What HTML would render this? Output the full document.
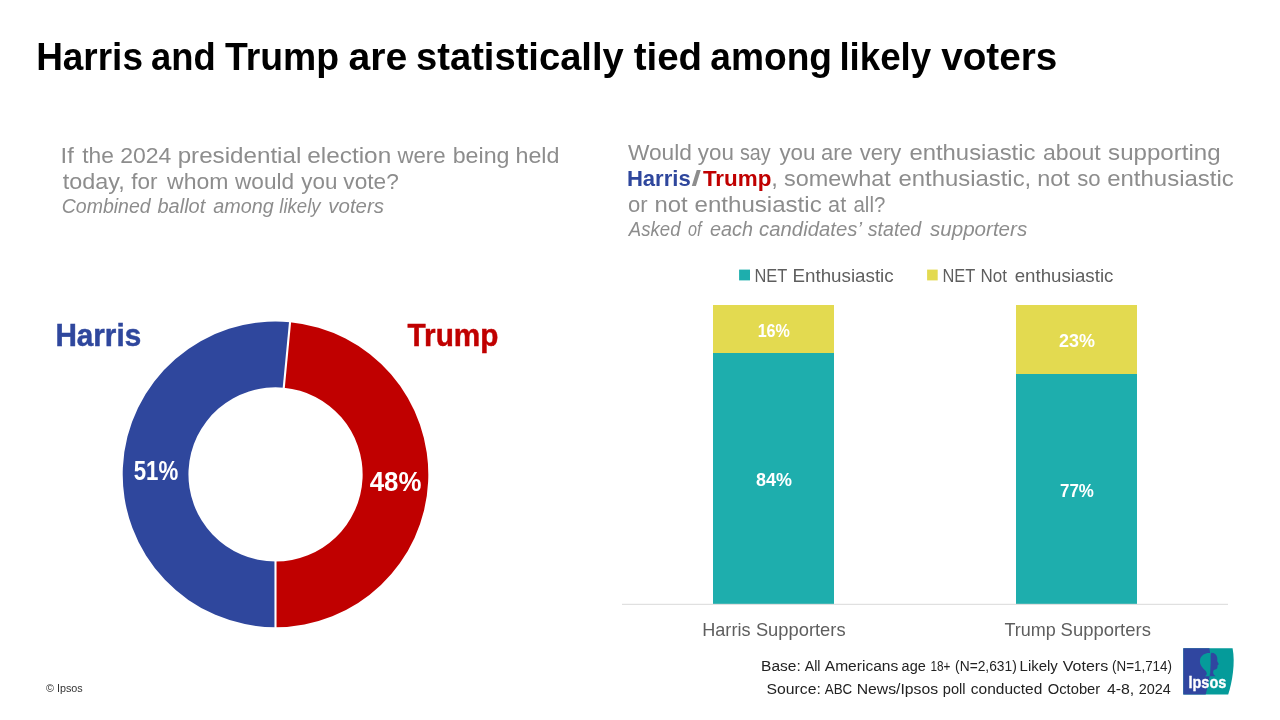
<!DOCTYPE html>
<html lang="en">
<head>
<meta charset="utf-8">
<title>Harris and Trump are statistically tied among likely voters</title>
<style>
  html, body { margin: 0; padding: 0; background: #ffffff; }
  body { width: 1280px; height: 720px; overflow: hidden; position: relative; font-family: "Liberation Sans", sans-serif; }
  svg { position: absolute; left: 0; top: 0; display: block; }
  text { font-family: "Liberation Sans", sans-serif; }
  .t { font-weight: bold; font-style: normal; font-size: 39.6px; word-spacing: 0px; }
  .q { font-weight: normal; font-style: normal; font-size: 22.2px; word-spacing: -1.3px; }
  .qb { font-weight: bold; font-style: normal; font-size: 22.2px; word-spacing: 0px; }
  .qi { font-weight: normal; font-style: italic; font-size: 19.4px; word-spacing: -1.0px; }
  .lg { font-weight: normal; font-style: normal; font-size: 18.6px; word-spacing: -0.8px; }
  .dl { font-weight: bold; font-style: normal; font-size: 19.0px; word-spacing: 0px; }
  .pl { font-weight: bold; font-style: normal; font-size: 27.2px; word-spacing: 0px; }
  .nm { font-weight: bold; font-style: normal; font-size: 32.0px; word-spacing: 0px; }
  .ft { font-weight: normal; font-style: normal; font-size: 14.7px; word-spacing: -0.6px; }
  .cp { font-weight: normal; font-style: normal; font-size: 10.5px; word-spacing: 0px; }
  .logo { font-weight: bold; font-style: normal; font-size: 16.0px; word-spacing: 0px; }
  .logo { stroke: #ffffff; stroke-width: 0.35px; }
</style>
</head>
<body>
<svg width="1280" height="720" viewBox="0 0 1280 720">
  <rect x="0" y="0" width="1280" height="720" fill="#ffffff"/>
  <g id="donut">
    <path d="M290.02,322.29 A152.8,152.8 0 0 1 275.50,627.20 L275.50,561.50 A87.1,87.1 0 0 0 283.78,387.69 Z" fill="#C00000"/>
    <path d="M275.50,627.20 A152.8,152.8 0 1 1 290.02,322.29 L283.78,387.69 A87.1,87.1 0 1 0 275.50,561.50 Z" fill="#2F479D"/>
    <line x1="290.12" y1="321.30" x2="283.68" y2="388.69" stroke="#ffffff" stroke-width="2.1"/>
    <line x1="275.5" y1="560.5" x2="275.5" y2="628.2" stroke="#ffffff" stroke-width="2.1"/>
  </g>
  <g id="legend">
    <rect x="739.1" y="269.6" width="10.9" height="10.8" fill="#1EAEAD"/>
    <rect x="927.1" y="269.6" width="10.6" height="10.8" fill="#E3DA50"/>
  </g>
  <g id="bars">
    <rect x="713" y="305" width="121" height="48" fill="#E3DA50"/>
    <rect x="713" y="353" width="121" height="251" fill="#1EAEAD"/>
    <rect x="1016" y="305" width="121" height="69" fill="#E3DA50"/>
    <rect x="1016" y="374" width="121" height="230" fill="#1EAEAD"/>
    <line x1="622" y1="604.3" x2="1228" y2="604.3" stroke="#D9D9D9" stroke-width="1"/>
  </g>
  <g id="logo">
    <path d="M1183.3,648.3 L1232.6,648.3 C1234,656 1234,664 1233,672 C1232,681 1230,689 1228.2,694.5 L1183.3,694.5 Z" fill="#059B9A"/>
    <path d="M1183.3,648.3 L1209.4,648.3 C1210.6,655 1211,661 1210.7,666 C1210.4,672 1209.6,677 1208.6,682 C1207.7,687 1206.6,691 1205.7,694.5 L1183.3,694.5 Z" fill="#3046A0"/>
    <path d="M1210.2,653 C1206,652.4 1201.5,654.6 1200.2,658.8 C1199.2,662.4 1200.6,666 1203.2,668.4 C1205,670 1206.6,671.4 1206.8,673.4 C1206.9,674.6 1206,675.6 1204.8,676.2 L1209.6,676.2 C1210.3,671 1210.8,665 1210.7,660 C1210.7,657.5 1210.5,655 1210.2,653 Z" fill="#059B9A"/>
    <path d="M1211.3,652.8 C1214,652.6 1216.6,654.6 1217.2,657.4 C1217.5,658.8 1217.3,660 1217.2,661 C1217.6,662 1218.5,663 1218.7,663.9 C1218.8,664.6 1217.8,664.8 1217.6,665.2 C1217.5,666.3 1217.6,667.6 1217,668.6 C1216.3,669.6 1214.6,669.5 1213.6,670.2 C1213,671.5 1213,673 1213.6,674.2 C1214,675 1214.8,675.6 1215.6,676.2 L1209.8,676.2 C1210.5,671 1211,665 1210.9,660 C1210.9,657.5 1210.7,655 1211.3,652.8 Z" fill="#3046A0"/>

  </g>
  <g id="labels">
    <text y="70" class="t"><tspan class="t" x="36.13" textLength="106.81" lengthAdjust="spacingAndGlyphs" style="fill:#000000">Harris</tspan> <tspan class="t" x="151.08" textLength="64.67" lengthAdjust="spacingAndGlyphs" style="fill:#000000">and</tspan> <tspan class="t" x="225.00" textLength="114.11" lengthAdjust="spacingAndGlyphs" style="fill:#000000">Trump</tspan> <tspan class="t" x="348.51" textLength="58.74" lengthAdjust="spacingAndGlyphs" style="fill:#000000">are</tspan> <tspan class="t" x="416.04" textLength="207.72" lengthAdjust="spacingAndGlyphs" style="fill:#000000">statistically</tspan> <tspan class="t" x="633.75" textLength="68.36" lengthAdjust="spacingAndGlyphs" style="fill:#000000">tied</tspan> <tspan class="t" x="710.31" textLength="121.73" lengthAdjust="spacingAndGlyphs" style="fill:#000000">among</tspan> <tspan class="t" x="839.39" textLength="91.87" lengthAdjust="spacingAndGlyphs" style="fill:#000000">likely</tspan> <tspan class="t" x="941.25" textLength="115.99" lengthAdjust="spacingAndGlyphs" style="fill:#000000">voters</tspan></text>
    <text y="163" class="q"><tspan class="q" x="60.60" textLength="13.25" lengthAdjust="spacingAndGlyphs" style="fill:#8d8d8d">If</tspan> <tspan class="q" x="82.25" textLength="31.60" lengthAdjust="spacingAndGlyphs" style="fill:#8d8d8d">the</tspan> <tspan class="q" x="120.21" textLength="51.14" lengthAdjust="spacingAndGlyphs" style="fill:#8d8d8d">2024</tspan> <tspan class="q" x="177.66" textLength="123.65" lengthAdjust="spacingAndGlyphs" style="fill:#8d8d8d">presidential</tspan> <tspan class="q" x="307.25" textLength="83.97" lengthAdjust="spacingAndGlyphs" style="fill:#8d8d8d">election</tspan> <tspan class="q" x="397.50" textLength="48.09" lengthAdjust="spacingAndGlyphs" style="fill:#8d8d8d">were</tspan> <tspan class="q" x="452.70" textLength="56.80" lengthAdjust="spacingAndGlyphs" style="fill:#8d8d8d">being</tspan> <tspan class="q" x="515.45" textLength="44.06" lengthAdjust="spacingAndGlyphs" style="fill:#8d8d8d">held</tspan></text>
    <text y="189" class="q"><tspan class="q" x="62.75" textLength="61.98" lengthAdjust="spacingAndGlyphs" style="fill:#8d8d8d">today,</tspan> <tspan class="q" x="131.25" textLength="26.23" lengthAdjust="spacingAndGlyphs" style="fill:#8d8d8d">for</tspan> <tspan class="q" x="167.04" textLength="61.36" lengthAdjust="spacingAndGlyphs" style="fill:#8d8d8d">whom</tspan> <tspan class="q" x="235.02" textLength="59.10" lengthAdjust="spacingAndGlyphs" style="fill:#8d8d8d">would</tspan> <tspan class="q" x="301.25" textLength="36.10" lengthAdjust="spacingAndGlyphs" style="fill:#8d8d8d">you</tspan> <tspan class="q" x="343.30" textLength="55.45" lengthAdjust="spacingAndGlyphs" style="fill:#8d8d8d">vote?</tspan></text>
    <text y="213" class="qi"><tspan class="qi" x="61.74" textLength="88.93" lengthAdjust="spacingAndGlyphs" style="fill:#8d8d8d">Combined</tspan> <tspan class="qi" x="157.50" textLength="47.74" lengthAdjust="spacingAndGlyphs" style="fill:#8d8d8d">ballot</tspan> <tspan class="qi" x="213.30" textLength="60.48" lengthAdjust="spacingAndGlyphs" style="fill:#8d8d8d">among</tspan> <tspan class="qi" x="279.30" textLength="41.35" lengthAdjust="spacingAndGlyphs" style="fill:#8d8d8d">likely</tspan> <tspan class="qi" x="328.35" textLength="55.63" lengthAdjust="spacingAndGlyphs" style="fill:#8d8d8d">voters</tspan></text>
    <text y="160" class="q"><tspan class="q" x="627.90" textLength="63.97" lengthAdjust="spacingAndGlyphs" style="fill:#8d8d8d">Would</tspan> <tspan class="q" x="697.80" textLength="36.05" lengthAdjust="spacingAndGlyphs" style="fill:#8d8d8d">you</tspan> <tspan class="q" x="740.00" textLength="30.69" lengthAdjust="spacingAndGlyphs" style="fill:#8d8d8d">say</tspan> <tspan class="q" x="779.40" textLength="35.95" lengthAdjust="spacingAndGlyphs" style="fill:#8d8d8d">you</tspan> <tspan class="q" x="821.00" textLength="31.74" lengthAdjust="spacingAndGlyphs" style="fill:#8d8d8d">are</tspan> <tspan class="q" x="859.70" textLength="41.50" lengthAdjust="spacingAndGlyphs" style="fill:#8d8d8d">very</tspan> <tspan class="q" x="909.40" textLength="126.10" lengthAdjust="spacingAndGlyphs" style="fill:#8d8d8d">enthusiastic</tspan> <tspan class="q" x="1043.00" textLength="57.77" lengthAdjust="spacingAndGlyphs" style="fill:#8d8d8d">about</tspan> <tspan class="q" x="1108.10" textLength="112.56" lengthAdjust="spacingAndGlyphs" style="fill:#8d8d8d">supporting</tspan></text>
    <text y="186" class="qb"><tspan class="qb" x="626.90" textLength="63.83" lengthAdjust="spacingAndGlyphs" style="fill:#2F479D">Harris</tspan><tspan class="qb" x="691.60" textLength="9.55" lengthAdjust="spacingAndGlyphs" style="fill:#8d8d8d">/</tspan><tspan class="qb" x="702.90" textLength="68.46" lengthAdjust="spacingAndGlyphs" style="fill:#C00000">Trump</tspan><tspan class="q" x="771.27" textLength="6.58" lengthAdjust="spacingAndGlyphs" style="fill:#8d8d8d">,</tspan> <tspan class="q" x="784.00" textLength="106.77" lengthAdjust="spacingAndGlyphs" style="fill:#8d8d8d">somewhat</tspan> <tspan class="q" x="898.50" textLength="132.75" lengthAdjust="spacingAndGlyphs" style="fill:#8d8d8d">enthusiastic,</tspan> <tspan class="q" x="1037.35" textLength="32.53" lengthAdjust="spacingAndGlyphs" style="fill:#8d8d8d">not</tspan> <tspan class="q" x="1077.20" textLength="23.39" lengthAdjust="spacingAndGlyphs" style="fill:#8d8d8d">so</tspan> <tspan class="q" x="1107.20" textLength="126.65" lengthAdjust="spacingAndGlyphs" style="fill:#8d8d8d">enthusiastic</tspan></text>
    <text y="212" class="q"><tspan class="q" x="627.90" textLength="19.59" lengthAdjust="spacingAndGlyphs" style="fill:#8d8d8d">or</tspan> <tspan class="q" x="654.53" textLength="33.15" lengthAdjust="spacingAndGlyphs" style="fill:#8d8d8d">not</tspan> <tspan class="q" x="694.60" textLength="127.10" lengthAdjust="spacingAndGlyphs" style="fill:#8d8d8d">enthusiastic</tspan> <tspan class="q" x="828.10" textLength="18.06" lengthAdjust="spacingAndGlyphs" style="fill:#8d8d8d">at</tspan> <tspan class="q" x="853.50" textLength="31.81" lengthAdjust="spacingAndGlyphs" style="fill:#8d8d8d">all?</tspan></text>
    <text y="236" class="qi"><tspan class="qi" x="628.86" textLength="51.68" lengthAdjust="spacingAndGlyphs" style="fill:#8d8d8d">Asked</tspan> <tspan class="qi" x="687.90" textLength="13.52" lengthAdjust="spacingAndGlyphs" style="fill:#8d8d8d">of</tspan> <tspan class="qi" x="710.00" textLength="43.00" lengthAdjust="spacingAndGlyphs" style="fill:#8d8d8d">each</tspan> <tspan class="qi" x="759.10" textLength="101.68" lengthAdjust="spacingAndGlyphs" style="fill:#8d8d8d">candidates’</tspan> <tspan class="qi" x="867.75" textLength="53.52" lengthAdjust="spacingAndGlyphs" style="fill:#8d8d8d">stated</tspan> <tspan class="qi" x="930.00" textLength="97.18" lengthAdjust="spacingAndGlyphs" style="fill:#8d8d8d">supporters</tspan></text>
    <text class="nm" x="55.45" y="346" textLength="85.69" lengthAdjust="spacingAndGlyphs" style="fill:#2F479D;stroke:#2F479D;stroke-width:0.5px">Harris</text>
    <text class="nm" x="407.60" y="346" textLength="90.81" lengthAdjust="spacingAndGlyphs" style="fill:#C00000;stroke:#C00000;stroke-width:0.5px">Trump</text>
    <text class="pl" x="133.70" y="480" textLength="44.54" lengthAdjust="spacingAndGlyphs" style="fill:#ffffff">51%</text>
    <text class="pl" x="369.70" y="491" textLength="51.67" lengthAdjust="spacingAndGlyphs" style="fill:#ffffff">48%</text>
    <text class="dl" x="757.65" y="337" textLength="32.26" lengthAdjust="spacingAndGlyphs" style="fill:#ffffff">16%</text>
    <text class="dl" x="756.00" y="486" textLength="35.90" lengthAdjust="spacingAndGlyphs" style="fill:#ffffff">84%</text>
    <text class="dl" x="1059.00" y="347" textLength="35.90" lengthAdjust="spacingAndGlyphs" style="fill:#ffffff">23%</text>
    <text class="dl" x="1060.00" y="497" textLength="33.91" lengthAdjust="spacingAndGlyphs" style="fill:#ffffff">77%</text>
    <text y="282" class="lg"><tspan class="lg" x="754.38" textLength="32.54" lengthAdjust="spacingAndGlyphs" style="fill:#5e5e5e">NET</tspan> <tspan class="lg" x="792.49" textLength="101.21" lengthAdjust="spacingAndGlyphs" style="fill:#5e5e5e">Enthusiastic</tspan></text>
    <text y="282" class="lg"><tspan class="lg" x="942.53" textLength="32.54" lengthAdjust="spacingAndGlyphs" style="fill:#5e5e5e">NET</tspan> <tspan class="lg" x="980.59" textLength="26.40" lengthAdjust="spacingAndGlyphs" style="fill:#5e5e5e">Not</tspan> <tspan class="lg" x="1014.70" textLength="98.70" lengthAdjust="spacingAndGlyphs" style="fill:#5e5e5e">enthusiastic</tspan></text>
    <text y="636" class="lg"><tspan class="lg" x="702.23" textLength="48.31" lengthAdjust="spacingAndGlyphs" style="fill:#5e5e5e">Harris</tspan> <tspan class="lg" x="755.90" textLength="89.69" lengthAdjust="spacingAndGlyphs" style="fill:#5e5e5e">Supporters</tspan></text>
    <text y="636" class="lg"><tspan class="lg" x="1004.40" textLength="51.33" lengthAdjust="spacingAndGlyphs" style="fill:#5e5e5e">Trump</tspan> <tspan class="lg" x="1060.60" textLength="90.29" lengthAdjust="spacingAndGlyphs" style="fill:#5e5e5e">Supporters</tspan></text>
    <text y="671" class="ft"><tspan class="ft" x="761.04" textLength="39.70" lengthAdjust="spacingAndGlyphs" style="fill:#222222">Base:</tspan> <tspan class="ft" x="804.70" textLength="15.80" lengthAdjust="spacingAndGlyphs" style="fill:#222222">All</tspan> <tspan class="ft" x="824.75" textLength="73.51" lengthAdjust="spacingAndGlyphs" style="fill:#222222">Americans</tspan> <tspan class="ft" x="901.60" textLength="24.17" lengthAdjust="spacingAndGlyphs" style="fill:#222222">age</tspan> <tspan class="ft" x="930.45" textLength="19.91" lengthAdjust="spacingAndGlyphs" style="fill:#222222">18+</tspan> <tspan class="ft" x="955.10" textLength="61.64" lengthAdjust="spacingAndGlyphs" style="fill:#222222">(N=2,631)</tspan> <tspan class="ft" x="1019.58" textLength="38.25" lengthAdjust="spacingAndGlyphs" style="fill:#222222">Likely</tspan> <tspan class="ft" x="1062.80" textLength="45.37" lengthAdjust="spacingAndGlyphs" style="fill:#222222">Voters</tspan> <tspan class="ft" x="1112.10" textLength="59.81" lengthAdjust="spacingAndGlyphs" style="fill:#222222">(N=1,714)</tspan></text>
    <text y="694" class="ft"><tspan class="ft" x="766.60" textLength="54.26" lengthAdjust="spacingAndGlyphs" style="fill:#222222">Source:</tspan> <tspan class="ft" x="824.75" textLength="27.39" lengthAdjust="spacingAndGlyphs" style="fill:#222222">ABC</tspan> <tspan class="ft" x="856.68" textLength="81.49" lengthAdjust="spacingAndGlyphs" style="fill:#222222">News/Ipsos</tspan> <tspan class="ft" x="942.85" textLength="22.76" lengthAdjust="spacingAndGlyphs" style="fill:#222222">poll</tspan> <tspan class="ft" x="970.80" textLength="71.58" lengthAdjust="spacingAndGlyphs" style="fill:#222222">conducted</tspan> <tspan class="ft" x="1047.80" textLength="52.39" lengthAdjust="spacingAndGlyphs" style="fill:#222222">October</tspan> <tspan class="ft" x="1106.90" textLength="27.37" lengthAdjust="spacingAndGlyphs" style="fill:#222222">4-8,</tspan> <tspan class="ft" x="1138.75" textLength="32.12" lengthAdjust="spacingAndGlyphs" style="fill:#222222">2024</tspan></text>
    <text class="cp" x="46.00" y="692" textLength="36.76" lengthAdjust="spacingAndGlyphs" style="fill:#333333">© Ipsos</text>
    <text class="logo" x="1188.50" y="688" textLength="37.81" lengthAdjust="spacingAndGlyphs" style="fill:#ffffff">Ipsos</text>
  </g>
</svg>
</body>
</html>
